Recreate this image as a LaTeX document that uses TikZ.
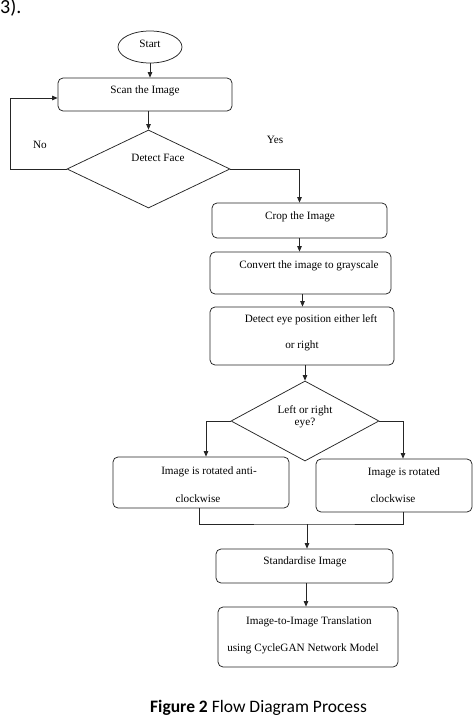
\documentclass[tikz,border=0pt]{standalone}
\usepackage{fontspec}
\setmainfont{Liberation Serif}
\newfontfamily\capfont{Carlito}
\usetikzlibrary{arrows.meta,shapes.geometric}
\tikzset{
  ln/.style={draw=black!85, line width=0.75pt},
  arr/.style={ln, -{Triangle[length=5.5pt,width=4.5pt]}},
  box/.style={ln, rectangle, rounded corners=5pt, inner sep=0pt},
  dia/.style={ln, diamond, inner sep=0pt},
  txt/.style={font=\fontsize{11.2}{13}\selectfont, inner sep=0pt, anchor=center},
}
\begin{document}
\begin{tikzpicture}[x=1pt,y=-1pt]
\useasboundingbox (0,0) rectangle (474,719);
% top fragment
\node[anchor=base west, inner sep=0pt, font=\capfont\fontsize{20}{22}\selectfont] (frag) at (0,14) {3).};
% shapes
\node[ln, ellipse, minimum width=64pt, minimum height=32pt, inner sep=0pt] (start) at (150,47) {};
\node[box, minimum width=174pt, minimum height=33pt] (scan) at (145,94.5) {};
\node[dia, minimum width=163pt, minimum height=78pt, aspect=2.09] (face) at (148.5,169) {};
\node[box, minimum width=175pt, minimum height=35pt] (crop) at (299.5,220.5) {};
\node[box, minimum width=181pt, minimum height=42pt] (conv) at (300.5,273) {};
\node[box, minimum width=184pt, minimum height=58pt] (eye) at (302,336) {};
\node[dia, minimum width=148pt, minimum height=80pt, aspect=1.85] (lr) at (305,421) {};
\node[box, minimum width=176pt, minimum height=51pt] (lbox) at (201,482.5) {};
\node[box, minimum width=156pt, minimum height=53pt] (rbox) at (394,485.5) {};
\node[box, minimum width=177pt, minimum height=34pt] (std) at (304.5,566) {};
\node[box, minimum width=180pt, minimum height=60pt] (fin) at (308,637) {};
% texts
\node[txt] (tstart) at (150,44) {Start};
\node[txt] (tscan) at (145,91) {Scan the Image};
\node[txt] (tface) at (158,158) {Detect Face};
\node[txt] (tno) at (40,145) {No};
\node[txt] (tyes) at (275,140) {Yes};
\node[txt] (tcrop) at (300,217) {Crop the Image};
\node[txt] (tconv) at (309,266) {Convert the image to grayscale};
\node[txt] (teye1) at (311,320) {Detect eye position either left};
\node[txt] (teye2) at (302,346) {or right};
\node[txt] (tlr1) at (305,411) {Left or right};
\node[txt] (tlr2) at (305,423) {eye?};
\node[txt] (tl1) at (209,472) {Image is rotated anti-};
\node[txt] (tl2) at (198,499) {clockwise};
\node[txt] (tr1) at (404,473) {Image is rotated};
\node[txt] (tr2) at (393,499) {clockwise};
\node[txt] (tstd) at (305,562) {Standardise Image};
\node[txt] (tfin1) at (309,622) {Image-to-Image Translation};
\node[txt] (tfin2) at (303,649) {using CycleGAN Network Model};
% caption
\node[anchor=base west, inner sep=0pt, font=\capfont\fontsize{17.5}{20}\selectfont] (cap) at (150,712) {\textbf{Figure 2} Flow Diagram Process};
% connectors
\coordinate (lp) at (10,98);
\coordinate (join) at (307,524);
\draw[arr] (start.south) -- (start.south |- scan.north);
\draw[arr] (scan.south -| face.north) -- (face.north);
\draw[arr] (face.west) -| (lp) -- (lp -| scan.west);
\draw[arr] (face.east) -| (crop.north);
\draw[arr] (crop.south) -- (crop.south |- conv.north);
\draw[arr] ([xshift=2pt]conv.south) -- ([xshift=2pt]conv.south |- eye.north);
\draw[arr] (lr.north |- eye.south) -- (lr.north);
\draw[arr] (lr.west) -| ([xshift=5pt]lbox.north);
\draw[arr] (lr.east) -| ([xshift=9pt]rbox.north);
\draw[ln] ([xshift=-2pt]lbox.south) |- (join) -| ([xshift=9pt]rbox.south);
\draw[arr] (join) -- (join |- std.north);
\draw[arr] ([xshift=1.5pt]std.south) -- ([xshift=1.5pt]std.south |- fin.north);
\end{tikzpicture}
\end{document}
